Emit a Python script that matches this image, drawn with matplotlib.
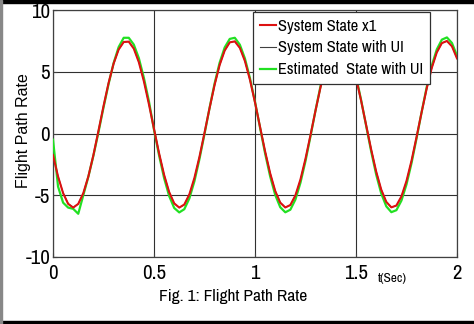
import matplotlib
matplotlib.use("Agg")
import matplotlib.pyplot as plt
from matplotlib import font_manager
from matplotlib.patches import Rectangle

names = {f.name for f in font_manager.fontManager.ttflist}
NARROW = "Liberation Sans"
for cand in ["Liberation Sans Narrow", "Archivo Narrow", "PT Sans Narrow",
             "Roboto Condensed", "Fira Sans Condensed", "Encode Sans Condensed"]:
    if cand in names:
        NARROW = cand
        break
REG = "Liberation Sans"

t = [i * 0.025 for i in range(81)]

system_x1 = [-1.75, -3.48, -4.83, -5.70, -6.00, -5.70, -4.83, -3.48, -1.75, 0.21,
             2.21, 4.08, 5.66, 6.80, 7.41, 7.44, 6.87, 5.77, 4.22, 2.36,
             0.37, -1.59, -3.35, -4.74, -5.66, -6.00, -5.75, -4.93, -3.60, -1.89,
             0.05, 2.05, 3.94, 5.55, 6.72, 7.38, 7.46, 6.93, 5.87, 4.35,
             2.52, 0.53, -1.45, -3.22, -4.65, -5.60, -5.99, -5.79, -5.01, -3.72,
             -2.04, -0.11, 1.89, 3.79, 5.43, 6.66, 7.35, 7.47, 7.00, 5.97,
             4.50, 2.68, 0.69, -1.29, -3.09, -4.55, -5.54, -5.98, -5.83, -5.09,
             -3.84, -2.19, -0.27, 1.74, 3.65, 5.31, 6.57, 7.32, 7.49, 7.06,
             6.08]

system_ui = [-1.70, -3.45, -4.80, -5.68, -5.98, -5.70, -4.85, -3.50, -1.78, 0.18,
             2.18, 4.05, 5.64, 6.79, 7.40, 7.44, 6.88, 5.79, 4.25, 2.40,
             0.40, -1.56, -3.32, -4.72, -5.65, -6.00, -5.77, -4.95, -3.63, -1.92,
             0.02, 2.02, 3.91, 5.53, 6.71, 7.37, 7.46, 6.94, 5.89, 4.38,
             2.55, 0.56, -1.42, -3.19, -4.63, -5.59, -5.99, -5.80, -5.03, -3.75,
             -2.07, -0.14, 1.86, 3.76, 5.41, 6.65, 7.34, 7.47, 7.01, 5.99,
             4.53, 2.71, 0.72, -1.26, -3.06, -4.53, -5.53, -5.98, -5.84, -5.11,
             -3.87, -2.22, -0.30, 1.71, 3.62, 5.29, 6.56, 7.31, 7.49, 7.07,
             6.10]

estimated_ui = [-0.50, -4.30, -5.60, -6.00, -6.10, -6.50, -5.00, -3.50, -1.80, 0.10,
                2.10, 4.00, 5.70, 7.00, 7.75, 7.75, 7.20, 6.10, 4.50, 2.60,
                0.30, -1.76, -3.61, -5.06, -6.03, -6.39, -6.13, -5.26, -3.87, -2.07,
                -0.04, 2.07, 4.05, 5.74, 6.97, 7.66, 7.75, 7.19, 6.08, 4.48,
                2.56, 0.47, -1.61, -3.47, -4.97, -5.97, -6.38, -6.17, -5.35, -3.99,
                -2.23, -0.20, 1.90, 3.89, 5.61, 6.91, 7.63, 7.76, 7.26, 6.18,
                4.64, 2.73, 0.64, -1.44, -3.33, -4.86, -5.90, -6.37, -6.21, -5.43,
                -4.12, -2.39, -0.37, 1.74, 3.75, 5.49, 6.81, 7.60, 7.78, 7.33,
                6.30]

xticks = [0, 0.5, 1, 1.5, 2]
xticklabels = ["0", "0.5", "1", "1.5", "2"]
yticks = [-10, -5, 0, 5, 10]
yticklabels = ["-10", "-5", "0", "5", "10"]

fig = plt.figure(figsize=(4.74, 3.24), dpi=100)
ax = fig.add_axes([53 / 474, 1 - 257 / 324, 404 / 474, 247 / 324])

ax.plot(t, system_ui, color="#404040", lw=0.8, label="System State with UI", zorder=3)
ax.plot(t, estimated_ui, color="#22e022", lw=1.6, label="Estimated  State with UI", zorder=4)
ax.plot(t, system_x1, color="#dd1111", lw=1.5, label="System State x1", zorder=5)

ax.set_xlim(0, 2)
ax.set_ylim(-10, 10)
ax.set_xticks(xticks)
ax.set_xticklabels(xticklabels)
ax.set_yticks(yticks)
ax.set_yticklabels(yticklabels)
ax.grid(True, color="#303030", lw=0.8)
ax.set_axisbelow(True)
for s in ax.spines.values():
    s.set_color("#404040")
    s.set_linewidth(0.9)
ax.tick_params(direction="in", length=3, color="#404040")
ax.tick_params(axis="x", pad=5)
ax.tick_params(axis="y", pad=2)
for lab in ax.get_xticklabels() + ax.get_yticklabels():
    lab.set_fontfamily(NARROW)
    lab.set_fontsize(15)
    lab.set_color("black")

fig.text(24 / 474, 1 - 131 / 324, "Flight Path Rate", fontfamily=REG, fontsize=11.5,
         rotation=90, ha="center", va="center")
fig.text(392 / 474, 1 - 279 / 324, "t(Sec)", fontfamily=NARROW, fontsize=9.5,
         ha="center", va="center")
fig.text(233 / 474, 1 - 297 / 324, "Fig. 1: Flight Path Rate", fontfamily=NARROW,
         fontsize=12.5, ha="center", va="center")

h, l = ax.get_legend_handles_labels()
order = [2, 0, 1]
leg = ax.legend([h[i] for i in order], [l[i] for i in order], loc="upper left",
                bbox_to_anchor=(0.495, 0.992), borderaxespad=0, frameon=True,
                fancybox=False, edgecolor="#303030", framealpha=1,
                prop={"family": NARROW, "size": 11.8}, handlelength=1.0,
                handletextpad=0.15, labelspacing=0.42, borderpad=0.4)
leg.get_frame().set_linewidth(0.9)
leg.set_zorder(10)

fig.patches.append(Rectangle((0, 1 - 3 / 324), 1, 3 / 324, transform=fig.transFigure,
                             color="black", zorder=20))
fig.patches.append(Rectangle((0, 0), 1, 3 / 324, transform=fig.transFigure,
                             color="black", zorder=20))
fig.patches.append(Rectangle((0, 0), 2 / 474, 1, transform=fig.transFigure,
                             color="#888888", zorder=20))

fig.savefig("out.png", dpi=100)
